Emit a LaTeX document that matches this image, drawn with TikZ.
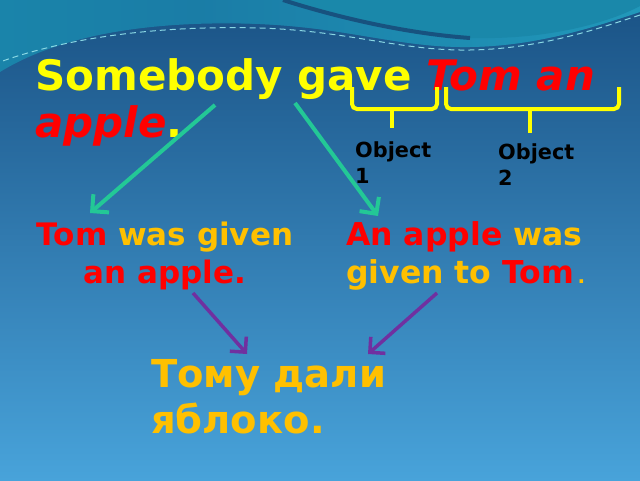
\documentclass[tikz,border=0pt]{standalone}
\usepackage{fontspec}
\setmainfont{DejaVu Sans}
\usetikzlibrary{arrows.meta}
\definecolor{titleyellow}{HTML}{FFFF00}
\definecolor{wordred}{HTML}{FF0000}
\definecolor{wordgold}{HTML}{FFC000}
\definecolor{arrowgreen}{HTML}{23C896}
\definecolor{arrowpurple}{HTML}{7030A0}
\definecolor{bgtop}{HTML}{1A5285}
\definecolor{bgmid}{HTML}{2F80B6}
\definecolor{bgbottom}{HTML}{48A3DA}
\definecolor{waveleft}{HTML}{1A84AA}
\definecolor{waveblue}{HTML}{1B6C9E}
\definecolor{waveband}{HTML}{2198BA}
\definecolor{waveteal}{HTML}{1A88AA}
\definecolor{wavedark}{HTML}{17527F}
\definecolor{wavelight}{HTML}{8AD8E4}
\newcommand{\slidetext}[4] {\node at (#1) (#2) [#3] {#4};}
\newcommand{\slidearrow}[3] {\draw [#1] (#2) -- (#3);}
\newcommand{\objbrace}[4] {\draw [bracket] (#1,87) -- (#1,109) -- (#2,109) -- (#2,87); \draw [bracket] (#3,109) -- (#3,#4);}
\tikzset{
  green arrow/.style={arrowgreen, line width=4pt, -{Straight Barb[length=12pt, width=24pt]}},
  purple arrow/.style={arrowpurple, line width=3.5pt, -{Straight Barb[length=11pt, width=22pt]}},
  bracket/.style={titleyellow, line width=4pt, rounded corners=5pt},
  inner sep=0pt
}

\begin{document}
\begin{tikzpicture}[x=1pt, y=-1pt]

\useasboundingbox (0,0) rectangle (640,480);
\shade [top color=bgtop, middle color=bgmid, bottom color=bgbottom] (0,0) rectangle (640,480);
\shade [left color=waveleft, right color=waveblue] (0,0) -- (640,0) -- (640,12) .. controls (600,25) and (540,46) .. (470,47) .. controls (400,48) and (350,28) .. (260,24) .. controls (150,20) and (60,35) .. (0,72) -- cycle;
\shade [left color=waveblue!31!waveleft, right color=waveband] (200,0) -- (640,0) -- (640,12) .. controls (600,25) and (540,46) .. (470,47) .. controls (400,48) and (350,28) .. (260,24) .. controls (240,23) and (220,22) .. (200,22) -- cycle;
\fill [waveteal] (283,0) .. controls (330,15) and (400,33) .. (470,38) .. controls (550,40) and (610,22) .. (640,6) -- (640,0) -- cycle;
\draw [wavedark, line width=4pt] (283,0) .. controls (330,15) and (400,33) .. (470,38);
\draw [wavelight, line width=1pt, dash pattern=on 6pt off 4pt] (640,15) .. controls (600,28) and (540,49) .. (470,50) .. controls (400,51) and (350,31) .. (260,28) .. controls (150,25) and (60,40) .. (0,62);

\slidetext {35,137}{title}{anchor=base west, align=left, font=\bfseries\fontsize{42}{47}\selectfont, text=titleyellow}{Somebody gave \textcolor{wordred}{\itshape Tom an}\\\textcolor{wordred}{\itshape apple}.}

\objbrace {352}{437}{392}{128}
\objbrace {446}{619}{530}{133}
\slidetext {355,183}{obja}{anchor=base west, align=left, font=\bfseries\fontsize{20.8}{26}\selectfont}{Object\\1}
\slidetext {498,185}{objb}{anchor=base west, align=left, font=\bfseries\fontsize{20.8}{26}\selectfont}{Object\\2}

\slidetext {165,283}{passtom}{anchor=base, align=center, font=\bfseries\fontsize{31}{38}\selectfont, text=wordgold}{\textcolor{wordred}{Tom} was given\\\textcolor{wordred}{an apple.}}
\slidetext {346,283}{passapple}{anchor=base west, align=left, font=\bfseries\fontsize{31.5}{38}\selectfont, text=wordgold}{\textcolor{wordred}{An apple} was\\given to \textcolor{wordred}{Tom}{\fontsize{20}{20}\selectfont\,.}}
\slidetext {151,433}{russian}{anchor=base west, align=left, font=\bfseries\fontsize{38.5}{46}\selectfont, text=wordgold}{Тому дали\\яблоко.}

\coordinate (titlel) at (215,105);
\coordinate (titler) at (295,103);
\coordinate (tomtip) at (90,213);
\coordinate (appletip) at (378,216);
\slidearrow {green arrow}{titlel}{tomtip}
\slidearrow {green arrow}{titler}{appletip}

\coordinate (tomfoot) at (193,293);
\coordinate (applefoot) at (437,293);
\coordinate (rusl) at (247,354);
\coordinate (rusr) at (368,354);
\slidearrow {purple arrow}{tomfoot}{rusl}
\slidearrow {purple arrow}{applefoot}{rusr}

\end{tikzpicture}
\end{document}
